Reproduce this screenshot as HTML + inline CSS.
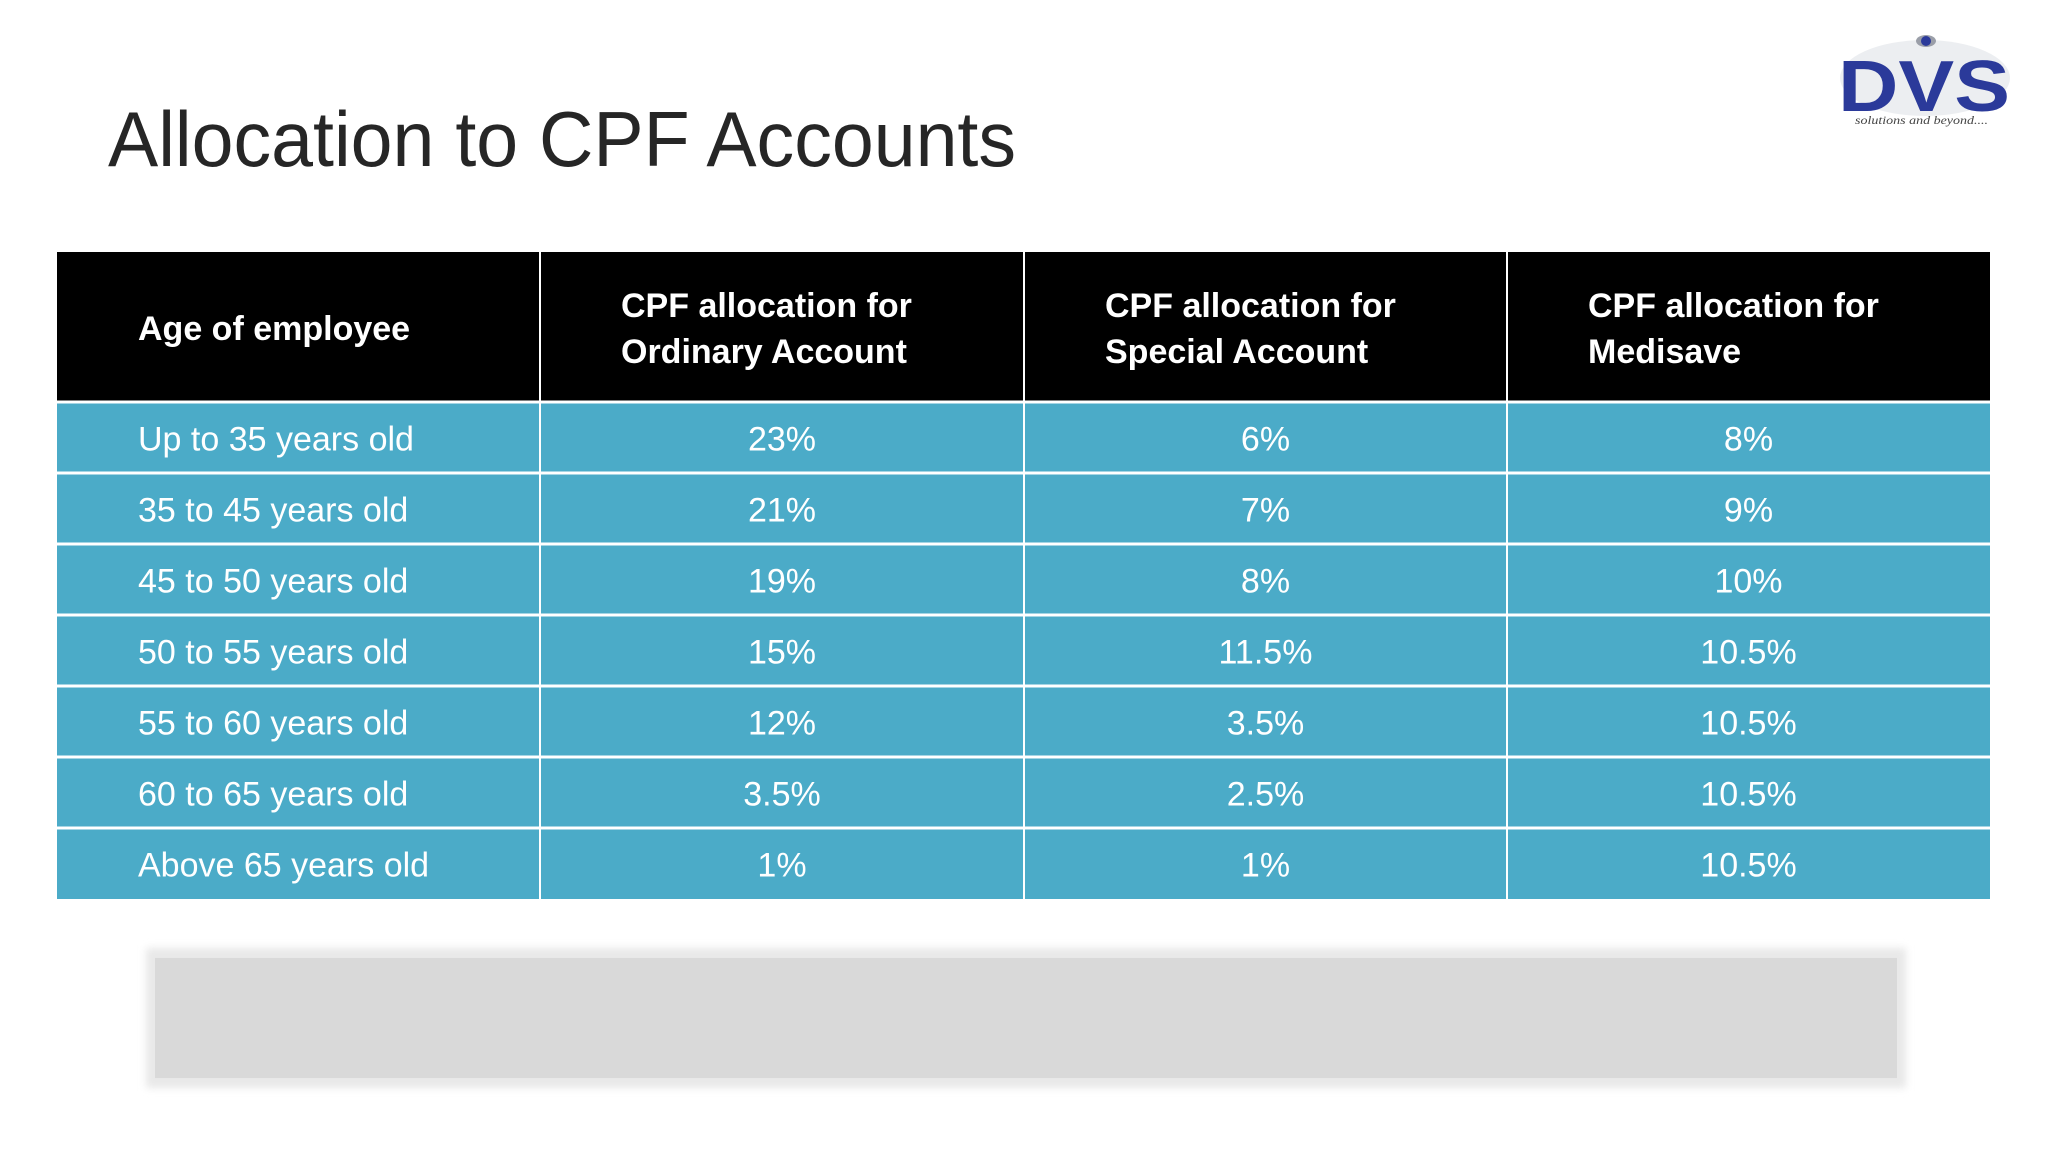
<!DOCTYPE html>
<html><head><meta charset="utf-8">
<style>
html,body{margin:0;padding:0;background:#fff;width:2048px;height:1152px;overflow:hidden}
svg{display:block}
</style></head>
<body>
<svg id="slide" width="2048" height="1152" viewBox="0 0 2048 1152" xmlns="http://www.w3.org/2000/svg" font-family="'Liberation Sans', sans-serif">
  <defs>
    <filter id="blur" x="-5%" y="-20%" width="110%" height="140%"><feGaussianBlur stdDeviation="4"/></filter>
  </defs>
  <text x="108" y="166" font-size="78" fill="#262626" textLength="908" lengthAdjust="spacingAndGlyphs">Allocation to CPF Accounts</text>

  <g>
    <ellipse cx="1925" cy="78" rx="85" ry="38" fill="#eceef1"/>
    <ellipse cx="1926" cy="41" rx="10" ry="6" fill="#9a9ea8"/>
    <ellipse cx="1926" cy="41" rx="5" ry="5" fill="#2b3a9a"/>
    <text x="1838" y="111" font-size="72" font-weight="bold" fill="#2b3a9a" textLength="172" lengthAdjust="spacingAndGlyphs">DVS</text>
    <text x="1855" y="124" font-size="12" font-style="italic" font-family="'Liberation Serif', serif" fill="#444" textLength="133" lengthAdjust="spacingAndGlyphs">solutions and beyond....</text>
  </g>

  <g id="grey-box">
    <rect x="146" y="948" width="1760" height="140" fill="#e8e8e8" filter="url(#blur)"/>
    <rect x="155" y="958" width="1742" height="120" fill="#d9d9d9"/>
  </g>

  <g id="table"></g>
</svg>
<script>
const ageGroups = ["Up to 35 years old","35 to 45 years old","45 to 50 years old","50 to 55 years old","55 to 60 years old","60 to 65 years old","Above 65 years old"];
const ordinary = ["23%","21%","19%","15%","12%","3.5%","1%"];
const special = ["6%","7%","8%","11.5%","3.5%","2.5%","1%"];
const medisave = ["8%","9%","10%","10.5%","10.5%","10.5%","10.5%"];
const headers = [["Age of employee"],["CPF allocation for","Ordinary Account"],["CPF allocation for","Special Account"],["CPF allocation for","Medisave"]];

const NS = "http://www.w3.org/2000/svg";
const g = document.getElementById("table");
const colX = [57, 540, 1024, 1507, 1990];
const headTop = 252, headBot = 402, rowBot = 899;
const rowH = (rowBot - headBot) / ageGroups.length;
function mk(tag, attrs){const e=document.createElementNS(NS,tag);for(const k in attrs)e.setAttribute(k,attrs[k]);g.appendChild(e);return e;}

const hb = mk("rect",{x:colX[0],y:headTop,width:colX[4]-colX[0],height:headBot-headTop,fill:"#000"});


const bb = mk("rect",{x:colX[0],y:headBot,width:colX[4]-colX[0],height:rowBot-headBot,fill:"#4babc8"});



headers.forEach((lines,c)=>{
  lines.forEach((ln,i)=>{
    const y = lines.length===1 ? 340 : 317 + i*46;
    const t = mk("text",{x:colX[c]+81,y:y,"font-size":34,"font-weight":"bold",fill:"#fff"});
    t.textContent = ln;
    
    
  });
});

const cols = [ageGroups, ordinary, special, medisave];
for(let r=0;r<ageGroups.length;r++){
  const y = headBot + r*rowH;
  const cy = y + rowH/2 + 13;
  cols.forEach((arr,c)=>{
    const t = mk("text",{x: c===0 ? colX[0]+81 : (colX[c]+colX[c+1])/2, y: cy, "font-size":34, fill:"#fff", "text-anchor": c===0?"start":"middle"});
    t.textContent = arr[r];
    
    
  });
}
for(let r=0;r<ageGroups.length;r++){
  const y = headBot + r*rowH;
  const l = mk("line",{x1:colX[0],x2:colX[4],y1:y,y2:y,stroke:"#fff","stroke-width":3});
  
  
}
for(let c=1;c<4;c++){
  const l = mk("line",{x1:colX[c],x2:colX[c],y1:headTop,y2:rowBot,stroke:"#fff","stroke-width":2});
  
  
}
</script>
</body></html>
